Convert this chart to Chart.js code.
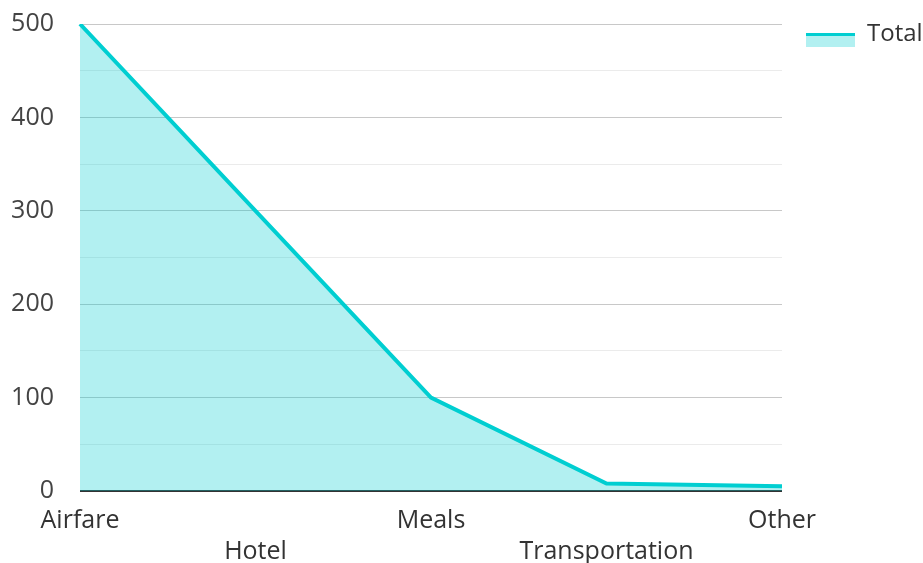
<!DOCTYPE html>
<html>
<head>
<meta charset="utf-8">
<script src="https://cdn.jsdelivr.net/npm/chart.js@4"></script>
<style>
  html, body { margin: 0; padding: 0; background: #fff; }
  #wrap { width: 923px; height: 563px; }
</style>
</head>
<body>
<div id="wrap"><canvas id="expenseChart"></canvas></div>
<script>
// Expense totals per category
const categories = ['Airfare', 'Hotel', 'Meals', 'Transportation', 'Other'];
const totals = [500, 300, 100, 8, 5];
const yTicks = [0, 100, 200, 300, 400, 500];

const lineColor = 'rgb(0, 206, 209)';
const fillColor = 'rgba(0, 206, 209, 0.3)';

// legend swatch: line on top, light fill under it (transparent margin shifts it into place)
const swatch = document.createElement('canvas');
swatch.width = 63;
swatch.height = 28;
const sctx = swatch.getContext('2d');
sctx.fillStyle = fillColor;
sctx.fillRect(14, 13, 49, 14);
sctx.fillStyle = lineColor;
sctx.fillRect(14, 13, 49, 3);

Chart.defaults.font.family = '"Open Sans", "Noto Sans", sans-serif';
Chart.defaults.font.size = 25;
Chart.defaults.color = '#333';

const ctx = document.getElementById('expenseChart').getContext('2d');
const expenseChart = new Chart(ctx, {
  type: 'line',
  data: {
    labels: categories,
    datasets: [{
      label: 'Total',
      data: totals,
      borderColor: lineColor,
      backgroundColor: fillColor,
      borderWidth: 4,
      fill: 'origin',
      pointRadius: 0,
      tension: 0,
    }],
  },
  options: {
    responsive: true,
    maintainAspectRatio: false,
    animation: false,
    layout: {
      padding: { top: 12, right: 0, left: 0, bottom: 0 },
    },
    plugins: {
      legend: {
        position: 'right',
        align: 'start',
        maxWidth: 141,
        labels: {
          usePointStyle: true,
          pointStyleWidth: 63,
          boxHeight: 24,
          padding: 10,
          font: { size: 24 },
          generateLabels: function (chart) {
            return [{
              text: 'Total',
              pointStyle: swatch,
              fillStyle: fillColor,
              strokeStyle: lineColor,
              lineWidth: 0,
              datasetIndex: 0,
              fontColor: '#333',
            }];
          },
        },
      },
      tooltip: { enabled: false },
    },
    scales: {
      x: {
        offset: false,
        grid: { display: false, drawTicks: false },
        border: { display: false },
        afterFit: function (axis) {
          axis.height = 72;
        },
        ticks: {
          autoSkip: false,
          maxRotation: 0,
          padding: 14,
          color: '#333',
          font: { lineHeight: 1.25 },
          callback: function (value, index) {
            // stagger every other label onto a second row
            const name = categories[index];
            return index % 2 === 1 ? ['', name] : name;
          },
        },
      },
      y: {
        min: 0,
        max: 500,
        afterBuildTicks: function (axis) {
          const t = [];
          for (let v = 0; v <= 500; v += 50) t.push({ value: v });
          axis.ticks = t;
        },
        afterFit: function (axis) {
          axis.width = 80;
          axis.paddingTop = 24;
          axis.paddingBottom = 12;
        },
        grid: {
          drawTicks: false,
          lineWidth: function (c) { return c.tick && c.tick.value === 0 ? 2 : 1; },
          color: function (c) {
            if (!c.tick) return '#ccc';
            if (c.tick.value === 0) return '#333';
            return yTicks.includes(c.tick.value) ? '#c8c8c8' : '#ebebeb';
          },
        },
        border: { display: false },
        ticks: {
          padding: 26,
          color: '#444',
          callback: function (value) {
            return yTicks.includes(value) ? value : '';
          },
        },
      },
    },
  },
});
</script>
</body>
</html>
